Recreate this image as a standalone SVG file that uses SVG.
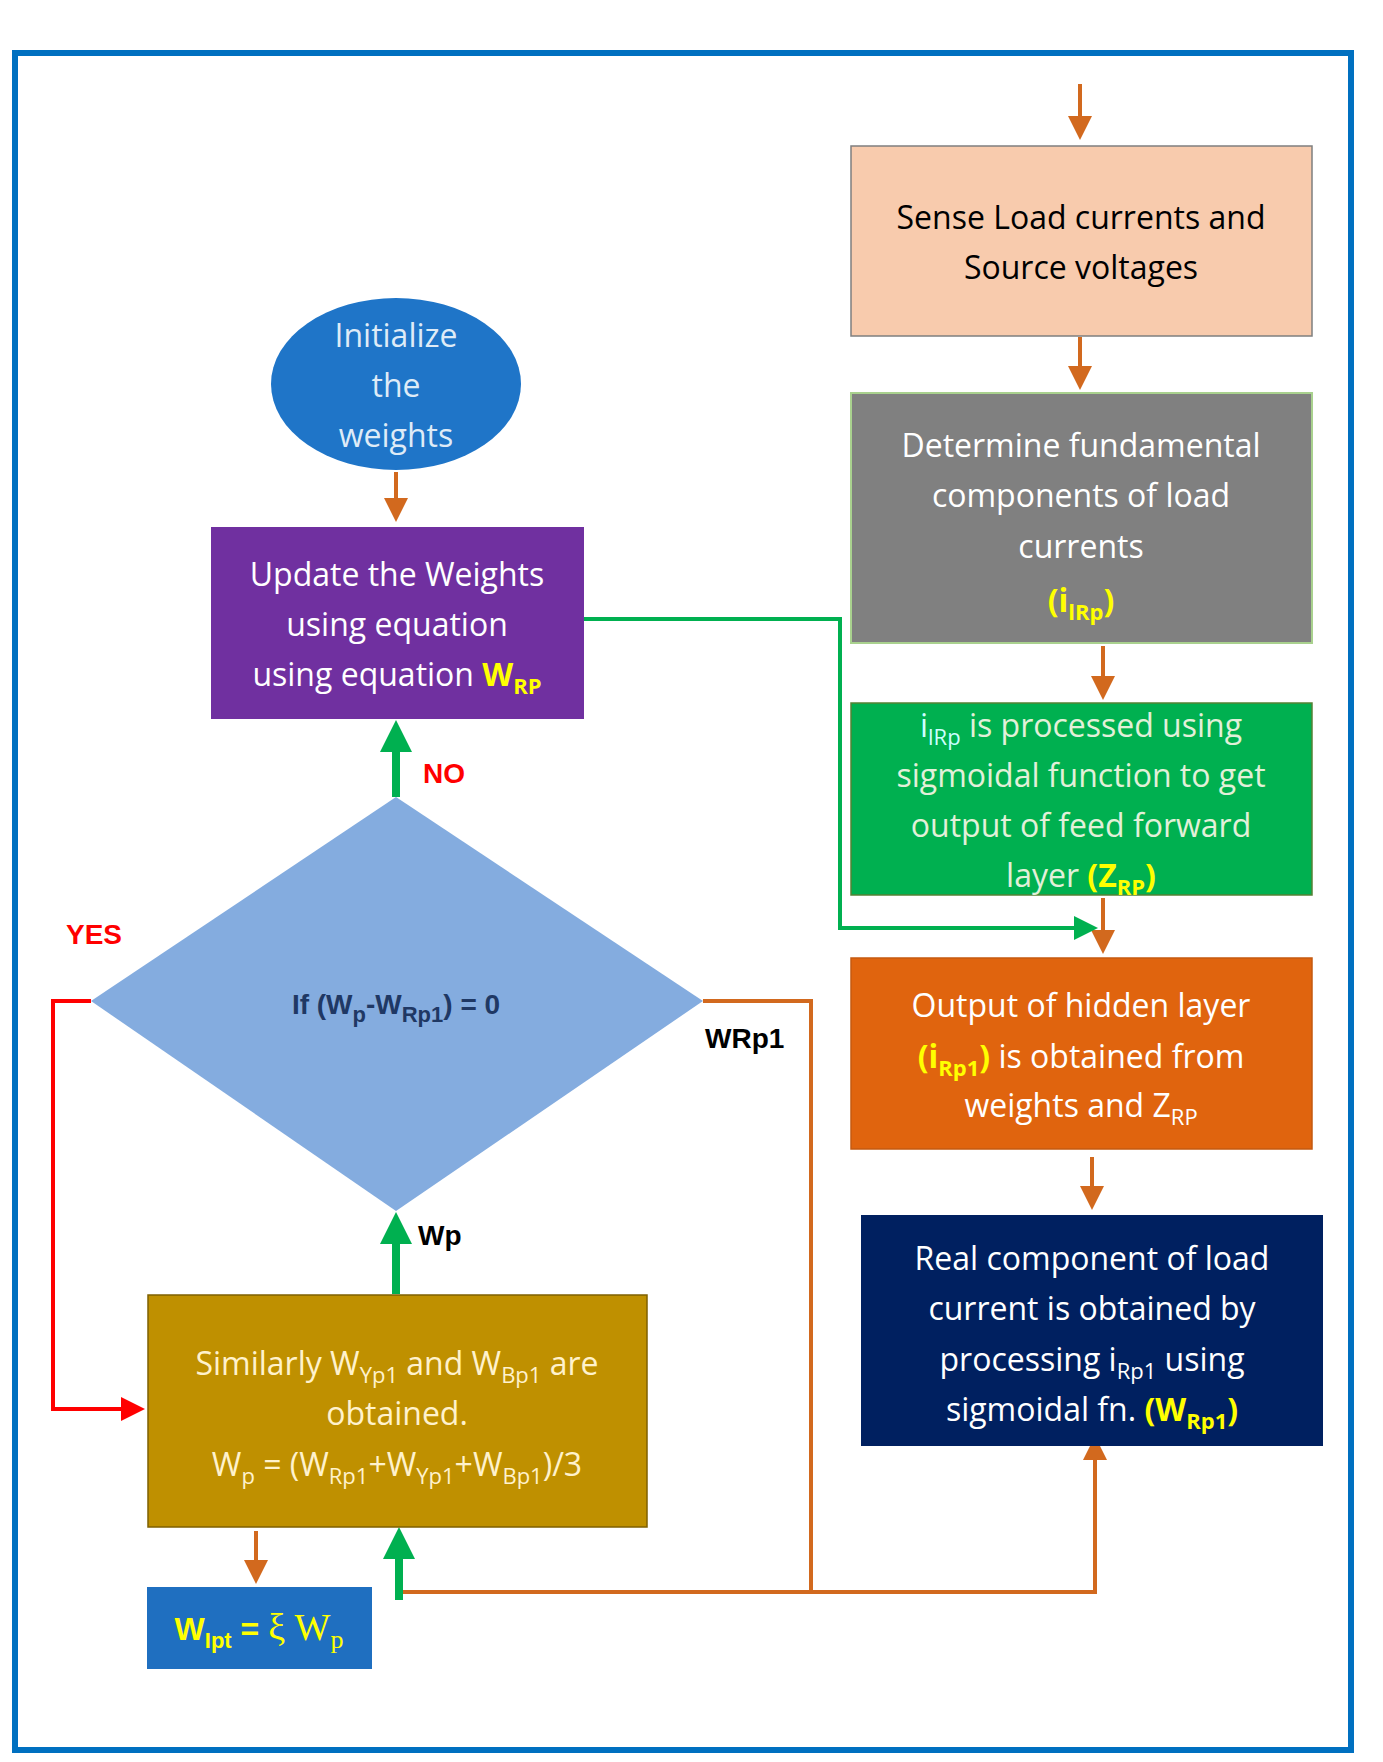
<svg xmlns="http://www.w3.org/2000/svg" width="1383" height="1762" viewBox="0 0 1383 1762">
<style>
.t{font-family:"Open Sans","DejaVu Sans",sans-serif;font-size:32px;text-anchor:middle;fill:#fff}
.b{font-weight:bold}
.y{fill:#FFFF00;font-weight:bold}
.lbl{font-family:"Liberation Sans",Arial,sans-serif;font-weight:bold;font-size:28px}
.o{stroke:#D2691E;stroke-width:4;fill:none}
.g{stroke:#00B050;stroke-width:4;fill:none}
.gt{stroke:#00B050;stroke-width:8;fill:none}
</style>
<defs>
<marker id="ao" markerWidth="6" markerHeight="6" refX="5" refY="3" orient="auto" markerUnits="strokeWidth"><path d="M0,0L6,3L0,6z" fill="#D2691E"/></marker>
<marker id="ag" markerWidth="6" markerHeight="6" refX="5" refY="3" orient="auto" markerUnits="strokeWidth"><path d="M0,0L6,3L0,6z" fill="#00B050"/></marker>
<marker id="agt" markerWidth="4" markerHeight="4" refX="3" refY="2" orient="auto" markerUnits="strokeWidth"><path d="M0,0L4,2L0,4z" fill="#00B050"/></marker>
<marker id="ar" markerWidth="6" markerHeight="6" refX="5" refY="3" orient="auto" markerUnits="strokeWidth"><path d="M0,0L6,3L0,6z" fill="#FF0000"/></marker>
</defs>
<rect x="0" y="0" width="1383" height="1762" fill="#fff"/>
<rect x="15" y="53" width="1336" height="1697" fill="none" stroke="#0070C0" stroke-width="6"/>
<g id="connectors">
<path class="o" d="M1080,84V136" marker-end="url(#ao)"/>
<path class="o" d="M1080,337V386" marker-end="url(#ao)"/>
<path class="o" d="M1103,646V696" marker-end="url(#ao)"/>
<path class="o" d="M1103,898V950" marker-end="url(#ao)"/>
<path class="o" d="M1092,1157V1206" marker-end="url(#ao)"/>
<path class="o" d="M396,472V518" marker-end="url(#ao)"/>
<path class="o" d="M256,1531V1580" marker-end="url(#ao)"/>
<path class="g" d="M584,619H840V928H1094" marker-end="url(#ag)"/>
<path class="gt" d="M396,797V728" marker-end="url(#agt)"/>
<path class="gt" d="M396,1294V1220" marker-end="url(#agt)"/>
<path stroke="#FF0000" stroke-width="4" fill="none" d="M91,1001H53V1409H141" marker-end="url(#ar)"/>
<path class="o" d="M703,1001H811V1592"/>
<path class="o" d="M399,1592H1095V1440" marker-end="url(#ao)"/>
<path class="gt" d="M399,1600V1535" marker-end="url(#agt)"/>
</g>
<g id="sense">
<rect x="851" y="146" width="461" height="190" fill="#F8CBAD" stroke="#7F7F7F" stroke-width="1.5"/>
<text class="t" style="fill:#000" x="1081" y="229">Sense Load currents and</text>
<text class="t" style="fill:#000" x="1081" y="279">Source voltages</text>
</g>
<g id="determine">
<rect x="851" y="393" width="461" height="250" fill="#808080" stroke="#A9D18E" stroke-width="2"/>
<text class="t" x="1081" y="457">Determine fundamental</text>
<text class="t" x="1081" y="507">components of load</text>
<text class="t" x="1081" y="558">currents</text>
<text class="t y" x="1081" y="612">(i<tspan font-size="22" dy="8">lRp</tspan><tspan dy="-8">)</tspan></text>
</g>
<g id="sigmoid">
<rect x="851" y="703" width="461" height="192" fill="#00B050" stroke="#548235" stroke-width="1.5"/>
<text class="t" style="fill:#E2F0D9" x="1081" y="737"><tspan fill="#CCFFFF">i<tspan font-size="22" dy="8">lRp</tspan></tspan><tspan dy="-8"> is processed using</tspan></text>
<text class="t" style="fill:#E2F0D9" x="1081" y="787">sigmoidal function to get</text>
<text class="t" style="fill:#E2F0D9" x="1081" y="837">output of feed forward</text>
<text class="t" style="fill:#E2F0D9" x="1081" y="887">layer <tspan class="y">(Z<tspan font-size="22" dy="8">RP</tspan><tspan dy="-8">)</tspan></tspan></text>
</g>
<g id="hidden">
<rect x="851" y="958" width="461" height="191" fill="#E0640E" stroke="#C55A11" stroke-width="1.5"/>
<text class="t" x="1081" y="1017">Output of hidden layer</text>
<text class="t" x="1081" y="1068"><tspan class="y">(i<tspan font-size="22" dy="8">Rp1</tspan><tspan dy="-8">)</tspan></tspan> is obtained from</text>
<text class="t" x="1081" y="1117">weights and Z<tspan font-size="22" dy="8">RP</tspan></text>
</g>
<g id="real">
<rect x="861" y="1215" width="462" height="231" fill="#002060"/>
<text class="t" x="1092" y="1270">Real component of load</text>
<text class="t" x="1092" y="1320">current is obtained by</text>
<text class="t" x="1092" y="1371">processing  i<tspan font-size="22" dy="8">Rp1</tspan><tspan dy="-8"> using</tspan></text>
<text class="t" x="1092" y="1421">sigmoidal fn. <tspan class="y">(W<tspan font-size="22" dy="8">Rp1</tspan><tspan dy="-8">)</tspan></tspan></text>
</g>
<g id="init">
<ellipse cx="396" cy="384" rx="125" ry="86" fill="#1F75C8"/>
<text class="t" style="fill:#DEEBF7" x="396" y="347">Initialize</text>
<text class="t" style="fill:#DEEBF7" x="396" y="397">the</text>
<text class="t" style="fill:#DEEBF7" x="396" y="447">weights</text>
</g>
<g id="update">
<rect x="211" y="527" width="373" height="192" fill="#7030A0"/>
<text class="t" x="397" y="586">Update the Weights</text>
<text class="t" x="397" y="636">using equation</text>
<text class="t" x="397" y="686">using equation <tspan class="y">W<tspan font-size="22" dy="8">RP</tspan></tspan></text>
</g>
<g id="decision">
<polygon points="396,797 703,1001 396,1211 91,1001" fill="#84ACDF"/>
<text class="lbl" x="396" y="1014" text-anchor="middle" fill="#1F3864" font-size="32">If (W<tspan font-size="22" dy="8">p</tspan><tspan dy="-8">-W</tspan><tspan font-size="22" dy="8">Rp1</tspan><tspan dy="-8">) = 0</tspan></text>
</g>
<text class="lbl" x="423" y="783" fill="#FF0000" font-size="30">NO</text>
<text class="lbl" x="66" y="944" fill="#FF0000" font-size="30">YES</text>
<text class="lbl" x="705" y="1048" fill="#000" font-size="25">WRp1</text>
<text class="lbl" x="418" y="1245" fill="#000" font-size="25">Wp</text>
<g id="similarly">
<rect x="148" y="1295" width="499" height="232" fill="#BF9000" stroke="#7F6000" stroke-width="1.5"/>
<text class="t" style="fill:#FFF2CC" x="397" y="1375">Similarly  W<tspan font-size="22" dy="8">Yp1</tspan><tspan dy="-8">  and W</tspan><tspan font-size="22" dy="8">Bp1</tspan><tspan dy="-8"> are</tspan></text>
<text class="t" style="fill:#FFF2CC" x="397" y="1425">obtained.</text>
<text class="t" style="fill:#FFF2CC" x="397" y="1476">W<tspan font-size="22" dy="8">p</tspan><tspan dy="-8"> = (W</tspan><tspan font-size="22" dy="8">Rp1</tspan><tspan dy="-8">+W</tspan><tspan font-size="22" dy="8">Yp1</tspan><tspan dy="-8">+W</tspan><tspan font-size="22" dy="8">Bp1</tspan><tspan dy="-8">)/3</tspan></text>
</g>
<g id="wipt">
<rect x="147" y="1587" width="225" height="82" fill="#1F6FC0"/>
<text x="259" y="1640" text-anchor="middle" fill="#FFFF00" font-family="'Liberation Sans',sans-serif" font-weight="bold" font-size="32">W<tspan font-size="22" dy="8">Ipt</tspan><tspan dy="-8"> = </tspan><tspan font-family="'Liberation Serif',serif" font-weight="normal" font-size="38">ξ W<tspan font-size="26" dy="8">p</tspan></tspan></text>
</g>
</svg>
